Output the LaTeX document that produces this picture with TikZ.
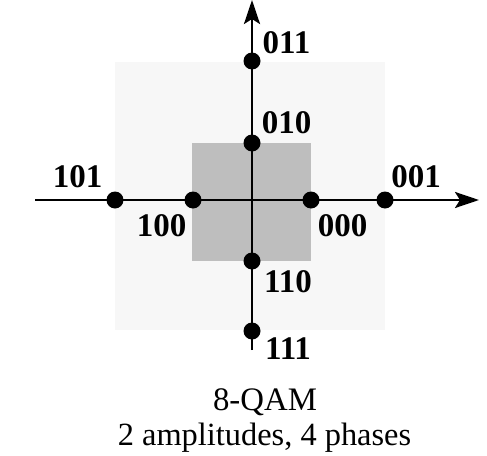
\documentclass[tikz,border=0pt]{standalone}
\usepackage{fontspec}
\setmainfont{Liberation Serif}
\usetikzlibrary{arrows.meta}
\definecolor{lightsq}{HTML}{F7F7F7}
\definecolor{darksq}{HTML}{BEBEBE}
\tikzset{
  pt/.style={circle, fill=black, inner sep=0pt, minimum size=17pt},
  lbl/.style={inner sep=0pt, font=\bfseries\fontsize{33}{33}\selectfont},
  axisline/.style={line width=2.6pt, -{Stealth[length=24pt, width=16pt, inset=5pt]}},
  caption/.style={inner sep=0pt, anchor=base}
}
\begin{document}
\begin{tikzpicture}[x=1pt, y=-1pt]
\useasboundingbox (0,0) rectangle (487,455);
% squares
\fill[lightsq] (115,62) rectangle (385,330);
\fill[darksq] (192,143) rectangle (311,261);
% axis ends
\coordinate (xl) at (35,200);
\coordinate (xr) at (479,200);
\coordinate (yb) at (252,350);
\coordinate (yt) at (252,0);
\draw[axisline, line cap=butt] (xl) -- (xr);
\draw[axisline, line cap=butt] (yb) -- (yt);
% points
\node[pt] (p011) at (252,61) {};
\node[pt] (p010) at (252,143) {};
\node[pt] (p101) at (115,200) {};
\node[pt] (p100) at (193,200) {};
\node[pt] (p000) at (311,200) {};
\node[pt] (p001) at (385,200) {};
\node[pt] (p110) at (252,261) {};
\node[pt] (p111) at (252,331) {};
% labels
\node[lbl] (l011) at (286.5,43) {011};
\node[lbl] (l010) at (286.5,123) {010};
\node[lbl] (l101) at (77.5,177) {101};
\node[lbl] (l100) at (161.5,226) {100};
\node[lbl] (l000) at (342.5,226) {000};
\node[lbl] (l001) at (416,177) {001};
\node[lbl] (l110) at (288,282) {110};
\node[lbl] (l111) at (288,349) {111};
% caption
\node[caption, font=\fontsize{32.8}{34}\selectfont] (c1) at (265,410) {8-QAM};
\node[caption, font=\fontsize{32.4}{34}\selectfont] (c2) at (264.5,445) {2 amplitudes, 4 phases};
\end{tikzpicture}
\end{document}
